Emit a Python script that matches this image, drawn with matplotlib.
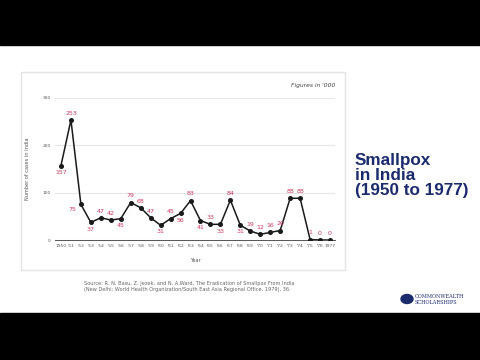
import matplotlib.pyplot as plt
from matplotlib.patches import Rectangle, Circle

years = list(range(1950, 1978))
cases = [157, 253, 75, 37, 47, 42, 45, 79, 68, 47, 31, 45, 56, 83, 41, 33,
         33, 84, 31, 19, 12, 16, 20, 88, 88, 1, 0, 0]
tick_labels = ["1950"] + ["'%02d" % (y % 100) for y in years[1:-1]] + ["1977"]
# where each value label sits relative to its point
label_pos = ['b', 'a', 'bl', 'b', 'a', 'a', 'b', 'a', 'a', 'a', 'b', 'a', 'b', 'a',
             'b', 'a', 'b', 'a', 'b', 'a', 'a', 'a', 'a', 'a', 'a', 'a', 'a', 'a']

navy = '#1c2a6e'
pink = '#c9385c'

fig = plt.figure(figsize=(4.8, 3.6), dpi=100)
fig.patch.set_facecolor('white')

# video letterbox bars
fig.add_artist(Rectangle((0, 1 - 45 / 360), 1, 45 / 360, transform=fig.transFigure,
                         color='black', zorder=0))
fig.add_artist(Rectangle((0, 0), 1, 47 / 360, transform=fig.transFigure,
                         color='black', zorder=0))

# chart panel frame
fig.add_artist(Rectangle((21 / 480, 1 - 270 / 360), 324 / 480, 198 / 360,
                         transform=fig.transFigure, fill=False, ec='#e4e4e4', lw=1))

ax = fig.add_axes([55 / 480, 1 - 240 / 360, 280 / 480, 142.3 / 360])
ax.plot(years, cases, color='#1a1a1a', lw=1.1, marker='o', ms=2.6, zorder=3)
ax.set_xlim(1949.4, 1977.5)
ax.set_ylim(0, 300)

offsets = {'a': (0, 3, 'center', 'bottom'), 'b': (0, -3, 'center', 'top'),
           'bl': (-3, -2, 'right', 'top')}
for x, y, p in zip(years, cases, label_pos):
    dx, dy, ha, va = offsets[p]
    ax.annotate(str(y), (x, y), xytext=(dx, dy), textcoords='offset points',
                ha=ha, va=va, fontsize=4.5, color=pink, zorder=4)

ax.set_yticks([0, 100, 200, 300])
ax.set_xticks(years)
ax.set_xticklabels(tick_labels)
ax.tick_params(axis='both', length=0, labelsize=3.2, colors='#555555', pad=3)
ax.grid(axis='y', color='#e6e6e6', lw=0.8)
ax.set_axisbelow(True)
for s in ['top', 'right', 'left']:
    ax.spines[s].set_visible(False)
ax.spines['bottom'].set_color('#555555')
ax.spines['bottom'].set_linewidth(0.7)
ax.set_xlabel('Year', fontsize=3.6, color='#555555', labelpad=7)
ax.set_ylabel('Number of cases in India', fontsize=3.6, color='#555555', labelpad=9)

fig.text(335 / 480, 1 - 85 / 360, "Figures in '000", fontsize=4.3, style='italic',
         color='#444444', ha='right', va='center')

fig.text(84 / 480, 1 - 283 / 360,
         "Source: R. N. Basu, Z. Jezek, and N. A.Ward, The Eradication of Smallpox From India",
         fontsize=3.6, color='#666666', va='center')
fig.text(84 / 480, 1 - 290 / 360,
         "(New Delhi: World Health Organization/South East Asia Regional Office, 1979), 36.",
         fontsize=3.6, color='#666666', va='center')

fig.text(355 / 480, 1 - 175 / 360, "Smallpox\nin India\n(1950 to 1977)", fontsize=12.3,
         fontweight='bold', color=navy, va='center', ha='left', linespacing=1.0,
         family='Liberation Sans')

# logo
fig.add_artist(Circle((407 / 480, 1 - 299 / 360), 6 / 480, transform=fig.transFigure,
                      color=navy))
fig.text(415 / 480, 1 - 296 / 360, "COMMONWEALTH", fontsize=3.6, color=navy,
         family='DejaVu Serif', va='center')
fig.text(415 / 480, 1 - 302 / 360, "SCHOLARSHIPS", fontsize=3.6, color=navy,
         family='DejaVu Serif', va='center')

fig.savefig('out.png', dpi=100)
